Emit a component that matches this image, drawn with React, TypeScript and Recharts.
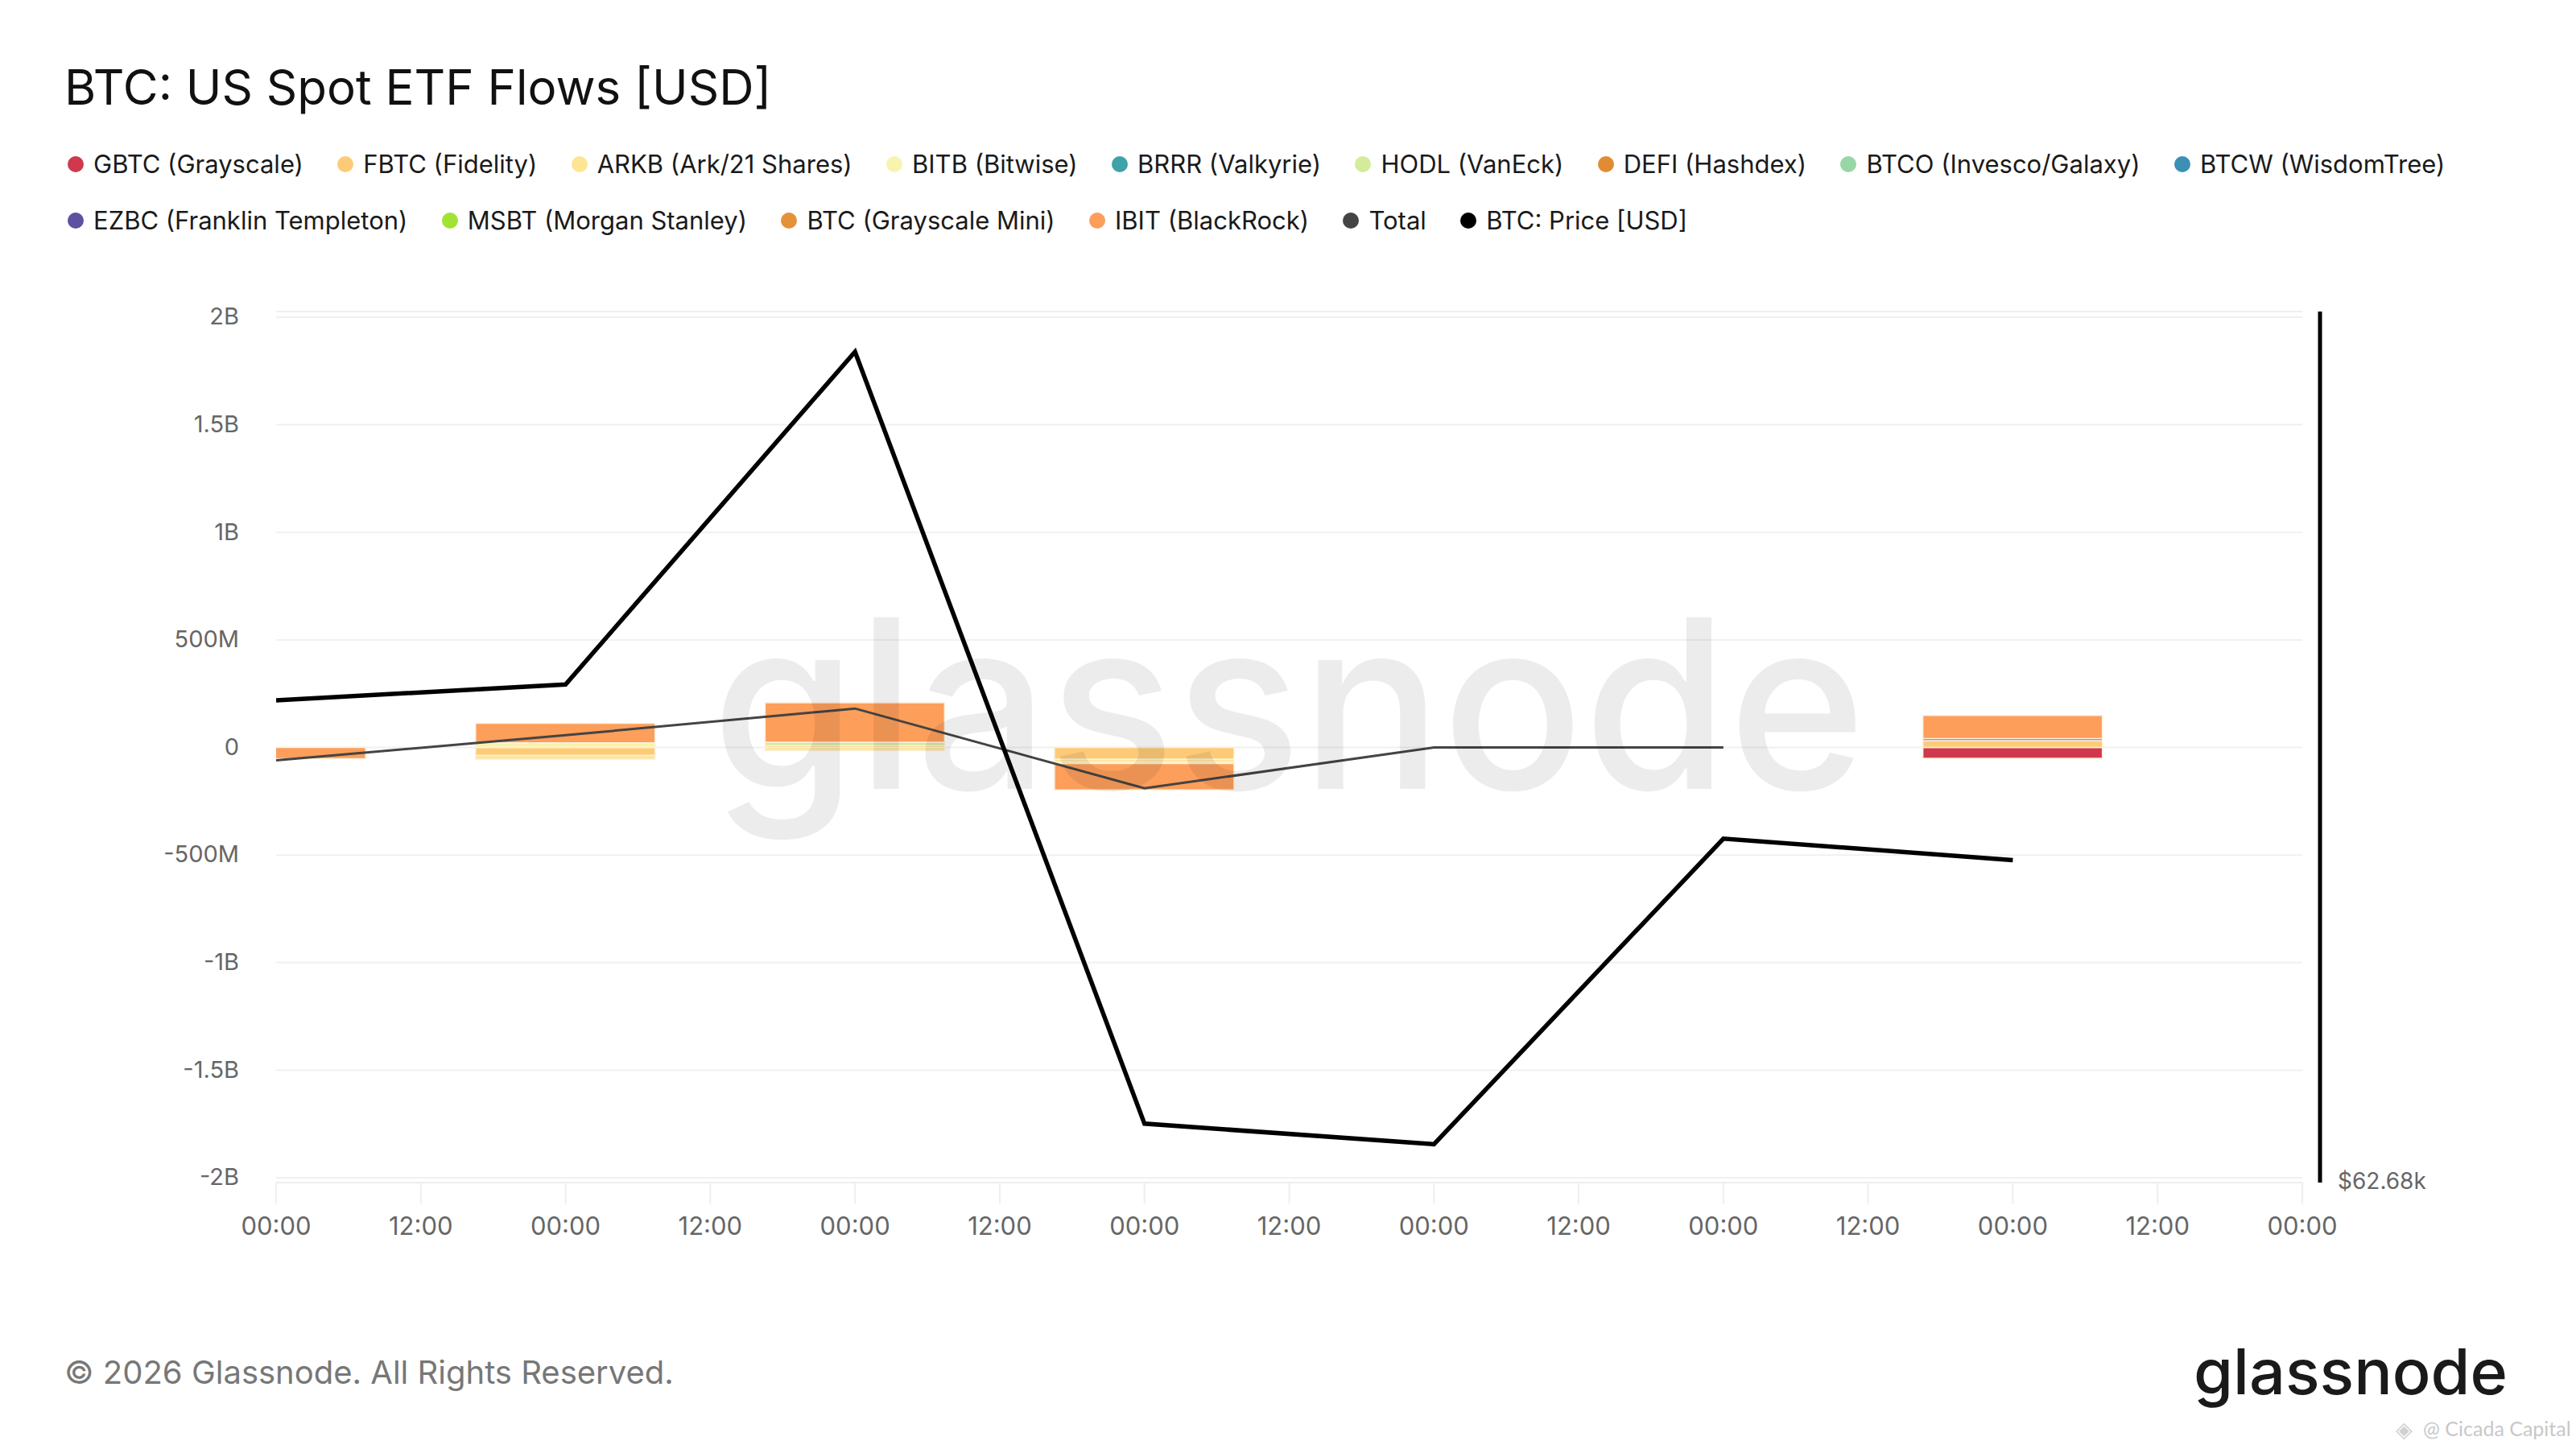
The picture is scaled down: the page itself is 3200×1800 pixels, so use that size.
import {
  ComposedChart,
  Bar,
  Line,
  XAxis,
  YAxis,
  CartesianGrid,
} from 'recharts'

const days = [0, 1, 2, 3, 4, 5, 6]

// flows in USD millions
const gbtc = [0, 0, 0, 0, 0, 0, -50]
const fbtc = [0, -37, 9, -55, 0, 0, 32]
const arkb = [0, -18, -15, -12, 0, 0, 0]
const bitb = [0, 22, 0, -8, 0, 0, 0]
const brrr = [0, 0, 0, 0, 0, 0, 0]
const hodl = [0, 0, 15, 0, 0, 0, 0]
const defi = [0, 0, 0, 0, 0, 0, 0]
const btco = [0, 0, 0, 0, 0, 0, 0]
const btcw = [0, 0, 0, 0, 0, 0, 0]
const ezbc = [0, 0, 0, 0, 0, 0, 9]
const msbt = [0, 0, 0, 0, 0, 0, 0]
const btcMini = [0, 0, 0, 0, 0, 0, 0]
const ibit = [-52, 90, 184, -122, 0, 0, 108]
const total = [-60, 57, 181, -190, 0, 0, null]
const price = [67840, 68010, 71570, 63310, 63090, 66360, 66130]

const names = [
  'GBTC (Grayscale)',
  'FBTC (Fidelity)',
  'ARKB (Ark/21 Shares)',
  'BITB (Bitwise)',
  'BRRR (Valkyrie)',
  'HODL (VanEck)',
  'DEFI (Hashdex)',
  'BTCO (Invesco/Galaxy)',
  'BTCW (WisdomTree)',
  'EZBC (Franklin Templeton)',
  'MSBT (Morgan Stanley)',
  'BTC (Grayscale Mini)',
  'IBIT (BlackRock)',
  'Total',
  'BTC: Price [USD]',
]
const colors = [
  '#d0384e',
  '#fdcb78',
  '#fee593',
  '#f8f4b0',
  '#3fa2a8',
  '#d3eb9b',
  '#e18b35',
  '#98d6a7',
  '#3c8fb5',
  '#5e50a1',
  '#a0e333',
  '#e59138',
  '#fd9e5a',
  '#444444',
  '#000000',
]
const flows = [gbtc, fbtc, arkb, bitb, brrr, hodl, defi, btco, btcw, ezbc, msbt, btcMini, ibit]

const yTicks = [-2000, -1500, -1000, -500, 0, 500, 1000, 1500, 2000]
const xTicks = [0, 0.5, 1, 1.5, 2, 2.5, 3, 3.5, 4, 4.5, 5, 5.5, 6, 6.5, 7]

const data = days.map((day, i) => {
  const row: Record<string, number | null> = { day, total: total[i], price: price[i] }
  flows.forEach((s, k) => {
    row[names[k]] = s[i]
  })
  return row
})

const font = 'Inter, sans-serif'
const axisText = { fill: '#666666', fontSize: 29, fontFamily: font }
const axisStroke = { stroke: '#eeeef0', strokeWidth: 2 }

function formatFlow(v: number) {
  if (v === 0) return '0'
  return Math.abs(v) >= 1000 ? `${v / 1000}B` : `${v}M`
}

function LegendRow({ from, to, top }: { from: number; to: number; top: number }) {
  return (
    <div style={{ position: 'absolute', left: 84, top, display: 'flex', gap: 42.4, whiteSpace: 'nowrap' }}>
      {names.slice(from, to).map((name, i) => (
        <div key={name} style={{ display: 'flex', alignItems: 'center', gap: 12, fontSize: 31, color: '#1a1a1a' }}>
          <span style={{ width: 20, height: 20, borderRadius: 10, background: colors[from + i] }} />
          {name}
        </div>
      ))}
    </div>
  )
}

export default function App() {
  return (
    <div
      style={{
        position: 'absolute',
        left: 0,
        top: 0,
        width: 3200,
        height: 1800,
        background: '#fff',
        overflow: 'hidden',
        fontFamily: font,
      }}
    >
      <div style={{ position: 'absolute', left: 80, top: 68, fontSize: 60, lineHeight: '80px', color: '#111' }}>
        BTC: US Spot ETF Flows [USD]
      </div>
      <LegendRow from={0} to={9} top={185} />
      <LegendRow from={9} to={15} top={255} />

      <div style={{ position: 'absolute', left: 0, top: 0 }}>
        <ComposedChart
          width={3200}
          height={1600}
          data={data}
          stackOffset="sign"
          margin={{ top: 387, right: 0, bottom: 0, left: 0 }}
        >
          <CartesianGrid horizontal vertical={false} stroke="#f0f0f3" strokeWidth={2} yAxisId="flow" />
          <XAxis
            xAxisId="bars"
            dataKey="day"
            type="number"
            domain={[0, 7]}
            ticks={days}
            allowDataOverflow
            height={0}
            hide
          />
          <XAxis
            xAxisId="labels"
            type="number"
            dataKey="day"
            domain={[0, 7]}
            ticks={xTicks}
            interval={0}
            height={131}
            tick={{ ...axisText, fontSize: 31 }}
            tickFormatter={(v: number) => (v % 1 === 0 ? '00:00' : '12:00')}
            tickSize={26}
            tickMargin={17}
            axisLine={axisStroke}
            tickLine={axisStroke}
          />
          <YAxis
            yAxisId="flow"
            width={343}
            domain={[-2022, 2026]}
            ticks={yTicks}
            interval={0}
            tick={{ ...axisText, dy: -1 }}
            tickFormatter={formatFlow}
            tickLine={false}
            axisLine={false}
            tickMargin={40}
          />
          <YAxis
            yAxisId="price"
            orientation="right"
            width={318}
            domain={[62680, 72000]}
            ticks={[62680]}
            interval={0}
            tick={{ ...axisText, fontSize: 28, dy: -2 }}
            tickFormatter={(v: number) => `$${(v / 1000).toFixed(2)}k`}
            tickLine={false}
            tickMargin={16}
            axisLine={{ stroke: '#000', strokeWidth: 5 }}
          />
          <YAxis yAxisId="gap" orientation="right" width={22} tick={false} axisLine={false} tickLine={false} />
          {flows.map((_, k) => (
            <Bar
              key={names[k]}
              xAxisId="bars"
              yAxisId="flow"
              dataKey={names[k]}
              stackId="flows"
              fill={colors[k]}
              stroke="#fdf1dc"
              strokeWidth={1.5}
              barSize={223}
              isAnimationActive={false}
            />
          ))}
          <Line
            xAxisId="bars"
            yAxisId="flow"
            dataKey="total"
            stroke="#444444"
            strokeWidth={3}
            dot={false}
            isAnimationActive={false}
          />
          <Line
            xAxisId="bars"
            yAxisId="price"
            dataKey="price"
            stroke="#000"
            strokeWidth={5.5}
            dot={false}
            isAnimationActive={false}
          />
        </ComposedChart>
      </div>

      <svg width={3200} height={1800} style={{ position: 'absolute', left: 0, top: 0, pointerEvents: 'none' }}>
        <text
          x={884}
          y={980}
          fontSize={293}
          fontFamily={font}
          fontWeight={500}
          fill="#000"
          fillOpacity={0.075}
          textLength={1434}
          lengthAdjust="spacingAndGlyphs"
        >
          glassnode
        </text>
        <text x={80} y={1719} fontSize={40} fontFamily={font} fill="#777">
          © 2026 Glassnode. All Rights Reserved.
        </text>
        <text
          x={2725}
          y={1732}
          fontSize={78}
          fontFamily={font}
          fontWeight={500}
          fill="#1a1a1a"
          textLength={390}
          lengthAdjust="spacingAndGlyphs"
        >
          glassnode
        </text>
        <text x={2976} y={1785} fontSize={27} fontFamily="'DejaVu Sans'" fill="#d0d0d0">
          ◈
        </text>
        <text x={3010} y={1784} fontSize={25} fontFamily="Lato, sans-serif" fill="#c8c8c8">
          @ Cicada Capital
        </text>
      </svg>
    </div>
  )
}
